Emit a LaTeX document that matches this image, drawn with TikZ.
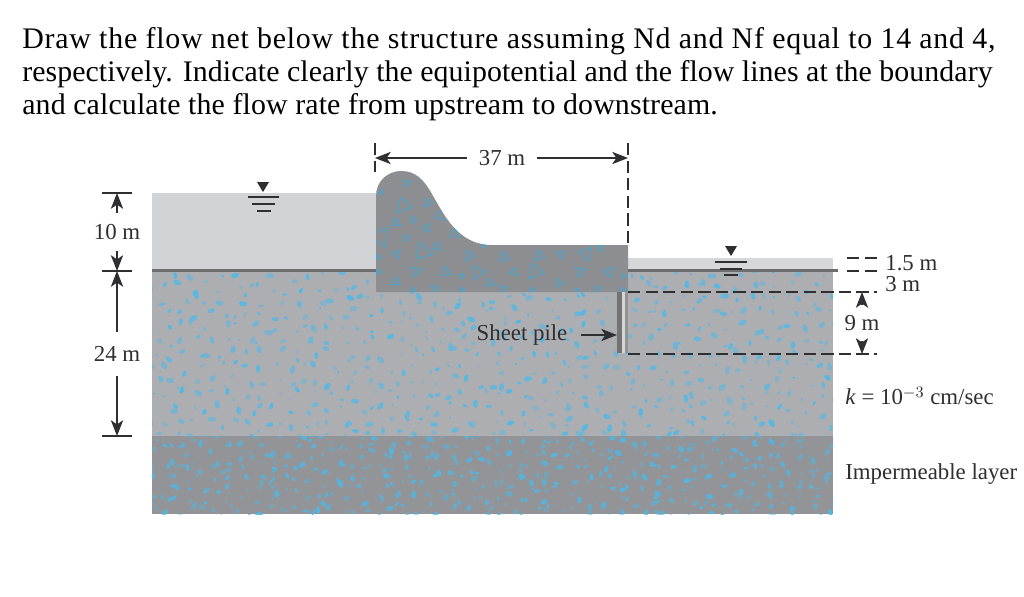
\documentclass[tikz,border=0pt]{standalone}
\usepackage{amsmath}
\usepackage{fontspec}
\setmainfont{Liberation Serif}
\newfontfamily\questionfontA[LetterSpace=2.6]{Liberation Serif}
\newfontfamily\questionfontB[LetterSpace=0.2]{Liberation Serif}
\newfontfamily\questionfontC[LetterSpace=0.45]{Liberation Serif}
\usetikzlibrary{arrows.meta,calc}
\definecolor{upwater}{HTML}{D2D3D6}
\definecolor{downwater}{HTML}{D6D7D9}
\definecolor{soilgray}{HTML}{ADAEB2}
\definecolor{rockgray}{HTML}{939497}
\definecolor{damgray}{HTML}{8D8E91}
\definecolor{speck}{HTML}{4DB9E8}
\definecolor{inkgray}{HTML}{2F2F31}
\newcommand{\speckles}[7]{%
  \foreach \row in {0,...,#5} {
    \foreach \col in {0,...,#6} {
      \pgfmathsetmacro{\px}{#1+\col/#6*(#3-#1)+rand*7}
      \pgfmathsetmacro{\py}{#2+\row/#5*(#4-#2)+rand*6}
      \pgfmathsetmacro{\pa}{rnd*180}
      \pgfmathsetmacro{\pr}{1.5+rnd*#7}
      \pgfmathsetmacro{\po}{0.4+rnd*0.5}
      \fill [speck,opacity=\po,rotate around={\pa:(\px,-\py)}] (\px,-\py) ellipse ({\pr} and {\pr*0.6});
    }
  }
}
\newcommand{\rocktri}[4]{%
  \draw [speck!90!black,line width=0.5pt,line join=miter] ($(#1,-#2)+(#4:#3)$) -- ($(#1,-#2)+(#4+115:#3)$) -- ($(#1,-#2)+(#4+235:#3)$) -- cycle;
}
\begin{document}
\begin{tikzpicture}[x=0.02cm,y=0.02cm,
  textlabel/.style={text=inkgray,font=\fontsize{13}{15}\selectfont,inner sep=0pt},
  questionline/.style={anchor=west,inner sep=0pt,text=black},
  questionsize/.style={font=#1\fontsize{17}{19}\selectfont},
  dimlabel/.style={textlabel,minimum height=0.76cm},
  dimarrow/.style={inkgray,line width=0.6pt,-{Stealth[length=9pt,width=7pt,inset=2.4pt]}},
  dimline/.style={inkgray,line width=0.6pt},
  dashline/.style={inkgray,line width=0.7pt,dash pattern=on 7pt off 3pt},
  waterline/.style={inkgray,line width=0.7pt}]
\useasboundingbox [fill=white] (0,0) rectangle (1024,-596);
\node [questionline,questionsize=\questionfontA] (lineOne) at (22,-41) {Draw the flow net below the structure assuming Nd and Nf equal to 14 and 4,};
\node [questionline,questionsize=\questionfontB] (lineTwo) at (22,-74) {respectively. Indicate clearly the equipotential and the flow lines at the boundary};
\node [questionline,questionsize=\questionfontC] (lineThree) at (22,-107) {and calculate the flow rate from upstream to downstream.};
\fill [upwater] (152,-193) rectangle (376,-270);
\fill [downwater] (628,-258) rectangle (833,-270);
\fill [soilgray] (152,-270) rectangle (833,-436);
\fill [rockgray] (152,-436) rectangle (833,-514);
\pgfmathsetseed{4127}
\begin{scope}
\clip (152,-270) rectangle (833,-436);
\speckles{155}{273}{832}{436}{12}{50}{2.9}
\end{scope}
\begin{scope}
\clip (152,-436) rectangle (833,-514);
\speckles{155}{440}{832}{512}{7}{60}{2.6}
\end{scope}
\draw [inkgray!70,line width=1.4pt] (152,-270.5) -- (376,-270.5);
\draw [inkgray!70,line width=1.4pt] (628,-270.5) -- (838,-270.5);
\begin{scope}
\path [clip,preaction={fill=damgray}] (376,-292) -- (376,-196) .. controls (376,-181) and (388,-171) .. (401,-171) .. controls (416,-171) and (424,-180) .. (432,-194) .. controls (444,-215) and (458,-245) .. (492,-245) -- (628,-245) -- (628,-292) -- cycle;
\foreach \tx/\ty/\tr/\ta in {407/183/4/20,381/192/3/200,403/206/9/-10,428/203/5/0,443/215/8/80,396/223/5/100,413/220/4/10,427/228/5/70,455/234/6/95,381/237/11/60,406/238/4/10,397/254/5/50,423/252/10/110,437/247/5/75,469/256/6/0,504/257/6/110,539/256/6/-10,561/254/5/40,586/253/8/170,600/248/4/30,378/257/3/0,378/272/3/0,416/271/6/140,446/272/6/100,462/276/3/20,478/272/8/130,490/283/5/110,514/272/5/80,535/272/9/-5,559/283/5/120,580/271/6/140,609/272/6/170,624/276/3/10,396/282/5/90,435/289/5/20,503/289/5/20,462/290/3/0,532/290/3/0,577/290/2/0,598/289/4/20,413/290/3/0,623/290/3/0,484/246/2/0} {
  \rocktri{\tx}{\ty}{\tr}{\ta}
}
\end{scope}
\fill [gray!90!black] (617,-292) rectangle (622,-353);
\fill [soilgray!50!white] (622,-292) rectangle (625,-353);
\fill [gray!85] (625,-292) rectangle (628,-353);
\fill [inkgray] (263,-192) -- (257,-182) -- (269,-182) -- cycle;
\draw [waterline] (248,-197) -- (279,-197);
\draw [waterline] (252,-204) -- (275,-204);
\draw [waterline] (257,-211) -- (271,-211);
\fill [inkgray] (731,-256) -- (725,-246) -- (737,-246) -- cycle;
\draw [waterline] (715,-262) -- (747,-262);
\draw [waterline,line width=1.6pt] (720,-269) -- (742,-269);
\draw [waterline] (724,-275) -- (738,-275);
\draw [dashline] (628,-292) -- (877,-292);
\draw [dashline] (628,-354) -- (877,-354);
\draw [dashline] (847,-258) -- (877,-258);
\draw [dashline] (847,-271) -- (877,-271);
\draw [dashline] (375,-143) -- (375,-172);
\draw [dashline] (628,-143) -- (628,-245);
\draw [dimline] (102,-193) -- (132,-193);
\draw [dimline] (102,-271) -- (132,-271);
\draw [dimline] (102,-436) -- (132,-436);
\coordinate (tenTop) at (117,-193);
\coordinate (tenBottom) at (117,-271);
\coordinate (pileBottom) at (117,-436);
\coordinate (spanLeft) at (375,-158);
\coordinate (spanRight) at (628,-158);
\coordinate (nineTop) at (862,-292);
\coordinate (nineBottom) at (862,-354);
\coordinate (pileSide) at (617,-335);
\node [dimlabel] (labelTen) at (117,-232) {10 m};
\node [dimlabel,minimum height=0.88cm] (labelTwentyFour) at (117,-354) {24 m};
\node [dimlabel,minimum height=0.7cm] (labelNine) at (862,-323) {9 m};
\node [textlabel,minimum width=1.4cm] (labelSpan) at (502,-158) {37 m};
\node [textlabel,inner xsep=0.26cm] (labelPile) at (522,-335) {Sheet pile};
\node [textlabel,anchor=west] (labelOneHalf) at (885,-263) {1.5 m};
\node [textlabel,anchor=west] (labelThree) at (885,-284) {3 m};
\node [textlabel,anchor=west] (labelK) at (845,-396) {\textit{k} = 10$^{-3}$ cm/sec};
\node [textlabel,anchor=west] (labelLayer) at (845,-474) {Impermeable layer};
\draw [dimarrow] (labelTen) -- (tenTop);
\draw [dimarrow] (labelTen) -- (tenBottom);
\draw [dimarrow] (labelTwentyFour) -- (tenBottom);
\draw [dimarrow] (labelTwentyFour) -- (pileBottom);
\draw [dimarrow] (labelSpan) -- (spanLeft);
\draw [dimarrow] (labelSpan) -- (spanRight);
\draw [dimarrow] (labelNine) -- (nineTop);
\draw [dimarrow] (labelNine) -- (nineBottom);
\draw [dimarrow] (labelPile) -- (pileSide);
\end{tikzpicture}
\end{document}
